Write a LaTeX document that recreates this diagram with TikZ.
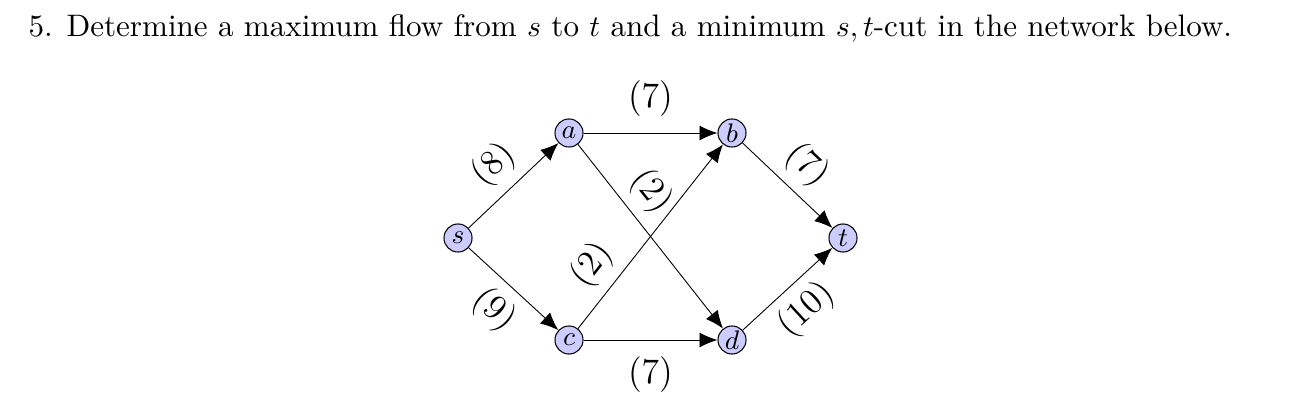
\documentclass[tikz,border=0pt]{standalone}
\usetikzlibrary{arrows.meta}
\definecolor{nodefill}{HTML}{CCCCFF}
\begin{document}
\begin{tikzpicture}[x=0.011765cm,y=-0.011765cm,
  vtx/.style={circle,draw,fill=nodefill,minimum size=0.33cm,inner sep=0pt,font=\small,line width=0.35pt},
  edge/.style={-{Latex[length=6pt,width=5pt]},line width=0.3pt},
  lab/.style={font=\fontsize{11.5}{13}\selectfont}]
\useasboundingbox (0,0) rectangle (1298,411);
\node[anchor=west,inner sep=0pt] (title) at (28,28) {\fontsize{10.4}{12}\selectfont 5. Determine a maximum flow from $s$ to $t$ and a minimum $s,t$-cut in the network below.};
\node[vtx] (s) at (458,238) {$s$};
\node[vtx] (a) at (569,133) {$a$};
\node[vtx] (b) at (732,133) {$b$};
\node[vtx] (c) at (569,340) {$c$};
\node[vtx] (d) at (732,340) {$d$};
\node[vtx] (t) at (843,238) {$t$};
\draw[edge] (s) -- node[sloped,above,lab] {$(8)$} (a);
\draw[edge] (s) -- node[sloped,below,lab] {$(9)$} (c);
\draw[edge] (a) -- node[above,lab,yshift=2pt] {$(7)$} (b);
\draw[edge] (c) -- node[below,lab,yshift=-2pt] {$(7)$} (d);
\draw[edge] (a) -- node[sloped,above,pos=0.35,lab] {$(2)$} (d);
\draw[edge] (c) -- node[sloped,above,pos=0.25,lab] {$(2)$} (b);
\draw[edge] (b) -- node[sloped,above,lab] {$(7)$} (t);
\draw[edge] (d) -- node[sloped,below,lab] {$(10)$} (t);
\end{tikzpicture}
\end{document}
